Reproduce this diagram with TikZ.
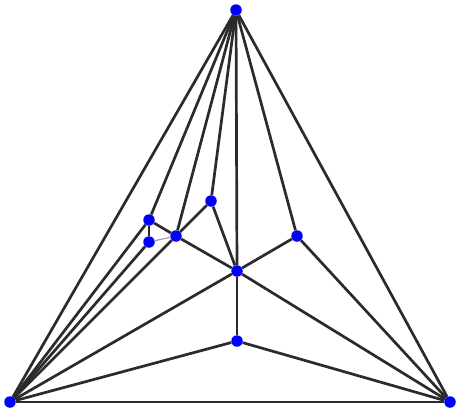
\documentclass[tikz,border=0pt]{standalone}
\definecolor{edgecol}{HTML}{2B2B2B}
\definecolor{dotcol}{HTML}{0000FF}
\begin{document}
\begin{tikzpicture}[x=1pt,y=-1pt,
  vtx/.style={circle,fill=dotcol,draw=none,inner sep=0pt,minimum size=11.5pt},
  edge/.style={draw=edgecol,line width=2.7pt},
  faint/.style={draw=edgecol!45,line width=1.2pt}]
\fill[white] (0,0) rectangle (474,413);
\useasboundingbox (0,0) rectangle (474,413);
\node[vtx] (nA) at (236,10) {};
\node[vtx] (nB) at (10,402) {};
\node[vtx] (nC) at (450,402) {};
\node[vtx] (nD) at (149,220) {};
\node[vtx] (nE) at (149,242) {};
\node[vtx] (nF) at (176,236) {};
\node[vtx] (nG) at (211,201) {};
\node[vtx] (nH) at (297,236) {};
\node[vtx] (nI) at (237,271) {};
\node[vtx] (nJ) at (237,341) {};
\foreach \u/\v in {A/B,A/C,B/C,A/D,A/F,A/G,A/I,A/H,B/D,B/E,B/F,B/I,B/J,C/H,C/I,C/J,D/E,D/F,F/G,F/I,G/I,H/I,I/J}
  \path[edge] (n\u) -- (n\v);
\path[faint] (nE) -- (nF);
\end{tikzpicture}
\end{document}
